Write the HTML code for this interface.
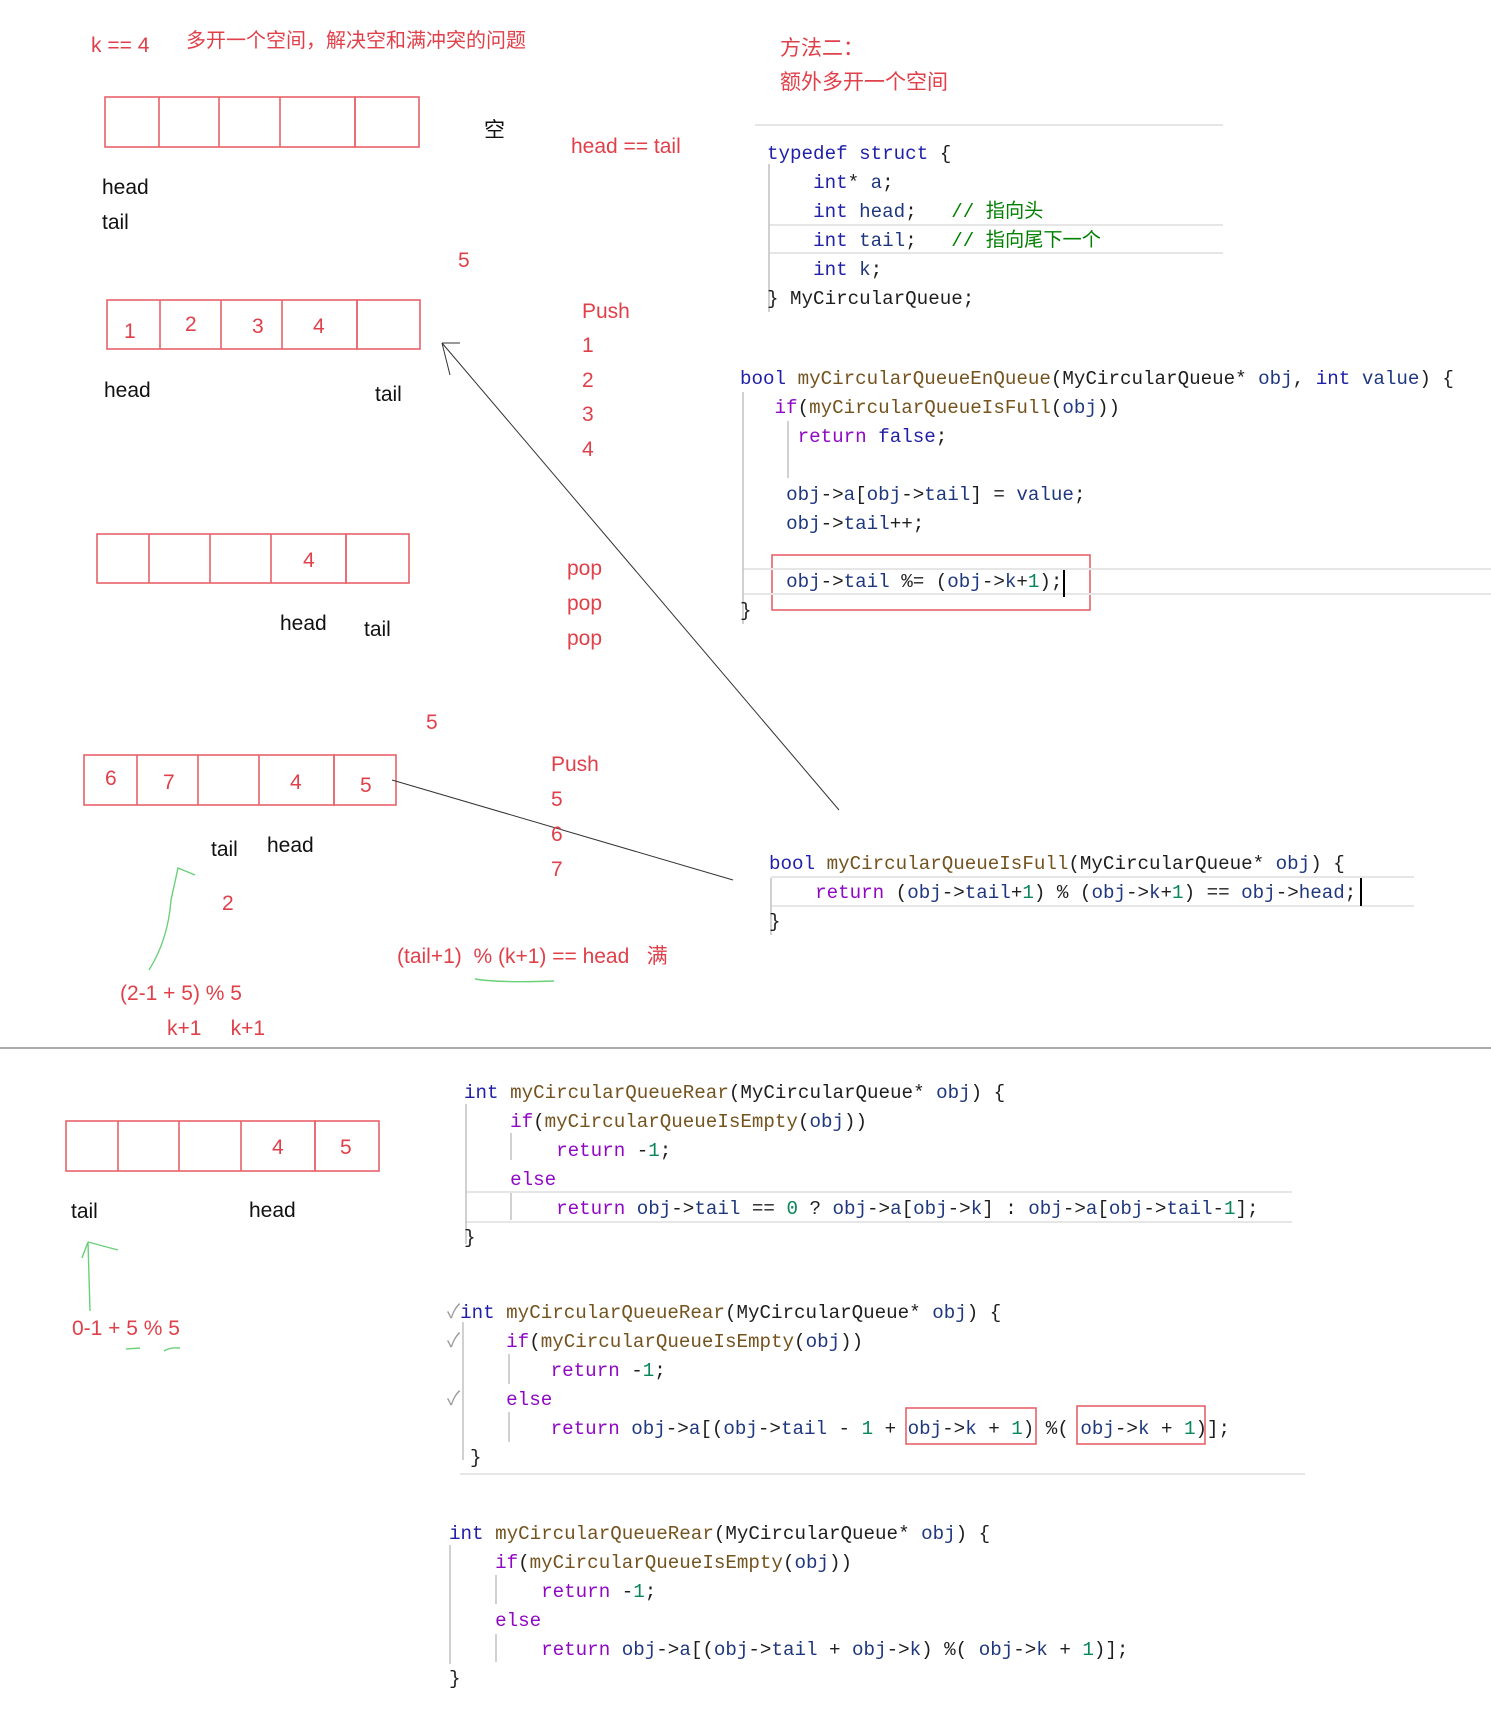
<!DOCTYPE html>
<html><head><meta charset="utf-8"><style>
body{margin:0;width:1491px;height:1715px;background:#fff;position:relative;overflow:hidden}
.t{position:absolute;font-family:"Liberation Sans","Noto Sans CJK SC",sans-serif;font-size:21px;line-height:26px;white-space:nowrap}
.r{color:#e0404a}.b{color:#111}
.c{position:absolute;font-family:"Liberation Mono","Noto Sans CJK SC",monospace;font-size:19.2px;line-height:29px;white-space:pre;color:#1e1e1e}
.k{color:#1f1fa8}.f{color:#74531f}.p{color:#8f08c4}.n{color:#098658}.v{color:#1f377f}.cm{color:#008000}
svg{position:absolute;left:0;top:0}
</style></head><body>
<svg width="1491" height="1715">
<g fill="none" stroke="#e8626a" stroke-width="1.6">
<rect x="105" y="97" width="250" height="50"/><rect x="355" y="97" width="64" height="50"/>
<path d="M159 97V147M219 97V147M280 97V147"/>
<rect x="107" y="300" width="250" height="49"/><rect x="357" y="300" width="63" height="49"/>
<path d="M160 300V349M221 300V349M282 300V349"/>
<rect x="97" y="534" width="249" height="49"/><rect x="346" y="534" width="63" height="49"/>
<path d="M149 534V583M210 534V583M271 534V583"/>
<rect x="84" y="755" width="250" height="50"/><rect x="334" y="755" width="62" height="50"/>
<path d="M137 755V805M198 755V805M259 755V805"/>
<rect x="66" y="1121" width="249" height="50"/><rect x="315" y="1121" width="64" height="50"/>
<path d="M118 1121V1171M179 1121V1171M241 1121V1171"/>
<rect x="772" y="555" width="318" height="55"/>
<rect x="906" y="1408" width="130" height="36"/><rect x="1077" y="1406" width="128" height="38"/>
</g>
<g fill="none" stroke="#333" stroke-width="1">
<path d="M839 810L442 343"/><path d="M442 343L460 343M442 343L450 375"/>
<path d="M392 780L733 880"/>
</g>
<g fill="none" stroke="#6ad07a" stroke-width="1.4">
<path d="M149 970Q168 940 171 900L178 868L195 875"/>
<path d="M475 979Q500 983 554 981"/>
<path d="M90 1311L88 1242L82 1258M88 1242L118 1250"/>
<path d="M126 1349L140 1348M164 1351Q170 1347 180 1348"/>
</g>
<path d="M0 1048H1491" stroke="#777" stroke-width="1.2"/>
<g stroke="#e6e6e6" stroke-width="2" fill="none">
<path d="M755 125H1223"/><path d="M769 225H1223M769 253H1223"/>
<path d="M743 569H1491M743 594H1491"/>
<path d="M771 877H1414M771 906H1414"/>
<path d="M466 1192H1292M466 1222H1292"/>
<path d="M460 1474H1305"/>
</g>
<g stroke="#bdbdbd" stroke-width="1.4" fill="none">
<path d="M769 164V312"/><path d="M743 392V624"/><path d="M788 421V478"/>
<path d="M771 878V935"/><path d="M466 1104V1244"/><path d="M511 1133V1160M511 1193V1220"/>
<path d="M463 1322V1460"/><path d="M509 1354V1384M509 1412V1442"/>
<path d="M450 1545V1664"/><path d="M496 1575V1604M496 1634V1662"/>
</g>
<path d="M1064 570V597M1361 878V906" stroke="#000" stroke-width="2"/>
</svg>

<div class="t r" style="left:91px;top:33px">k == 4</div>
<div class="t r" style="left:186px;top:28px;font-size:20px">多开一个空间，解决空和满冲突的问题</div>
<div class="t b" style="left:484px;top:118px">空</div>
<div class="t r" style="left:571px;top:134px">head == tail</div>
<div class="t b" style="left:102px;top:175px">head</div>
<div class="t b" style="left:102px;top:210px">tail</div>
<div class="t r" style="left:458px;top:248px">5</div>
<div class="t r" style="left:124px;top:319px">1</div>
<div class="t r" style="left:185px;top:312px">2</div>
<div class="t r" style="left:252px;top:314px">3</div>
<div class="t r" style="left:313px;top:314px">4</div>
<div class="t b" style="left:104px;top:378px">head</div>
<div class="t b" style="left:375px;top:382px">tail</div>
<div class="t r" style="left:582px;top:299px">Push</div>
<div class="t r" style="left:582px;top:333px">1</div>
<div class="t r" style="left:582px;top:368px">2</div>
<div class="t r" style="left:582px;top:402px">3</div>
<div class="t r" style="left:582px;top:437px">4</div>
<div class="t r" style="left:303px;top:548px">4</div>
<div class="t b" style="left:280px;top:611px">head</div>
<div class="t b" style="left:364px;top:617px">tail</div>
<div class="t r" style="left:567px;top:556px">pop</div>
<div class="t r" style="left:567px;top:591px">pop</div>
<div class="t r" style="left:567px;top:626px">pop</div>
<div class="t r" style="left:426px;top:710px">5</div>
<div class="t r" style="left:105px;top:766px">6</div>
<div class="t r" style="left:163px;top:770px">7</div>
<div class="t r" style="left:290px;top:770px">4</div>
<div class="t r" style="left:360px;top:773px">5</div>
<div class="t r" style="left:551px;top:752px">Push</div>
<div class="t r" style="left:551px;top:787px">5</div>
<div class="t r" style="left:551px;top:822px">6</div>
<div class="t r" style="left:551px;top:857px">7</div>
<div class="t b" style="left:211px;top:837px">tail</div>
<div class="t b" style="left:267px;top:833px">head</div>
<div class="t r" style="left:222px;top:891px">2</div>
<div class="t r" style="left:120px;top:981px">(2-1 + 5) % 5</div>
<div class="t r" style="left:167px;top:1016px">k+1&nbsp;&nbsp;&nbsp;&nbsp; k+1</div>
<div class="t r" style="left:397px;top:944px">(tail+1)&nbsp; % (k+1) == head&nbsp;&nbsp; 满</div>
<div class="t r" style="left:272px;top:1135px">4</div>
<div class="t r" style="left:340px;top:1135px">5</div>
<div class="t b" style="left:71px;top:1199px">tail</div>
<div class="t b" style="left:249px;top:1198px">head</div>
<div class="t r" style="left:72px;top:1316px">0-1 + 5 % 5</div>
<div class="t r" style="left:780px;top:36px">方法二：</div>
<div class="t r" style="left:780px;top:70px">额外多开一个空间</div>

<div class="c" style="left:767px;top:140px"><span class="k">typedef</span> <span class="k">struct</span> {
    <span class="k">int</span>* <span class="v">a</span>;
    <span class="k">int</span> <span class="v">head</span>;   <span class="cm">// 指向头</span>
    <span class="k">int</span> <span class="v">tail</span>;   <span class="cm">// 指向尾下一个</span>
    <span class="k">int</span> <span class="v">k</span>;
} MyCircularQueue;</div>

<div class="c" style="left:740px;top:365px"><span class="k">bool</span> <span class="f">myCircularQueueEnQueue</span>(MyCircularQueue* <span class="v">obj</span>, <span class="k">int</span> <span class="v">value</span>) {
   <span class="p">if</span>(<span class="f">myCircularQueueIsFull</span>(<span class="v">obj</span>))
     <span class="p">return</span> <span class="k">false</span>;

    <span class="v">obj</span>-&gt;<span class="v">a</span>[<span class="v">obj</span>-&gt;<span class="v">tail</span>] = <span class="v">value</span>;
    <span class="v">obj</span>-&gt;<span class="v">tail</span>++;

    <span class="v">obj</span>-&gt;<span class="v">tail</span> %= (<span class="v">obj</span>-&gt;<span class="v">k</span>+<span class="n">1</span>);
}</div>

<div class="c" style="left:769px;top:850px"><span class="k">bool</span> <span class="f">myCircularQueueIsFull</span>(MyCircularQueue* <span class="v">obj</span>) {
    <span class="p">return</span> (<span class="v">obj</span>-&gt;<span class="v">tail</span>+<span class="n">1</span>) % (<span class="v">obj</span>-&gt;<span class="v">k</span>+<span class="n">1</span>) == <span class="v">obj</span>-&gt;<span class="v">head</span>;
}</div>

<div class="c" style="left:464px;top:1079px"><span class="k">int</span> <span class="f">myCircularQueueRear</span>(MyCircularQueue* <span class="v">obj</span>) {
    <span class="p">if</span>(<span class="f">myCircularQueueIsEmpty</span>(<span class="v">obj</span>))
        <span class="p">return</span> -<span class="n">1</span>;
    <span class="p">else</span>
        <span class="p">return</span> <span class="v">obj</span>-&gt;<span class="v">tail</span> == <span class="n">0</span> ? <span class="v">obj</span>-&gt;<span class="v">a</span>[<span class="v">obj</span>-&gt;<span class="v">k</span>] : <span class="v">obj</span>-&gt;<span class="v">a</span>[<span class="v">obj</span>-&gt;<span class="v">tail</span>-<span class="n">1</span>];
}</div>

<div class="c" style="left:447px;top:1299px"><span style="color:#999">✓</span><span class="k">int</span> <span class="f">myCircularQueueRear</span>(MyCircularQueue* <span class="v">obj</span>) {
<span style="color:#999">✓</span>    <span class="p">if</span>(<span class="f">myCircularQueueIsEmpty</span>(<span class="v">obj</span>))
         <span class="p">return</span> -<span class="n">1</span>;
<span style="color:#999">✓</span>    <span class="p">else</span>
         <span class="p">return</span> <span class="v">obj</span>-&gt;<span class="v">a</span>[(<span class="v">obj</span>-&gt;<span class="v">tail</span> - <span class="n">1</span> + <span class="v">obj</span>-&gt;<span class="v">k</span> + <span class="n">1</span>) %( <span class="v">obj</span>-&gt;<span class="v">k</span> + <span class="n">1</span>)];
  }</div>

<div class="c" style="left:449px;top:1520px"><span class="k">int</span> <span class="f">myCircularQueueRear</span>(MyCircularQueue* <span class="v">obj</span>) {
    <span class="p">if</span>(<span class="f">myCircularQueueIsEmpty</span>(<span class="v">obj</span>))
        <span class="p">return</span> -<span class="n">1</span>;
    <span class="p">else</span>
        <span class="p">return</span> <span class="v">obj</span>-&gt;<span class="v">a</span>[(<span class="v">obj</span>-&gt;<span class="v">tail</span> + <span class="v">obj</span>-&gt;<span class="v">k</span>) %( <span class="v">obj</span>-&gt;<span class="v">k</span> + <span class="n">1</span>)];
}</div>
</body></html>
